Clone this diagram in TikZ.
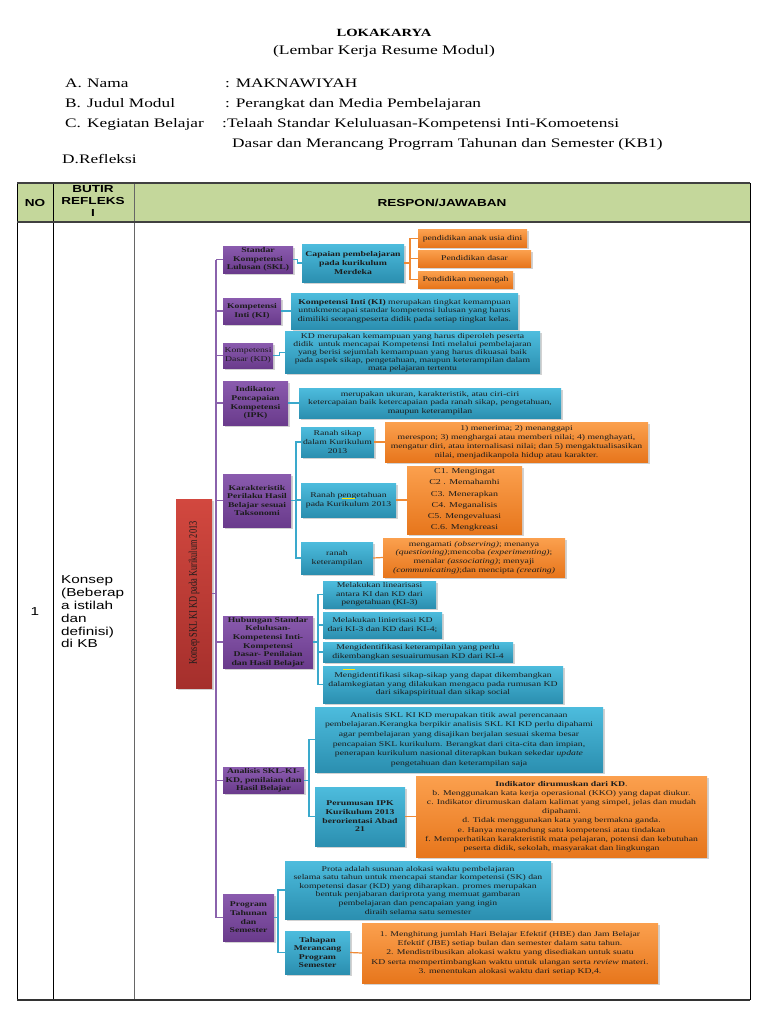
\documentclass[tikz,border=0pt]{standalone}
\usepackage{fontspec}
\setmainfont[FakeStretch=1.33]{Liberation Serif}
\newfontfamily\arialf[FakeStretch=1.33]{Liberation Sans}
\newfontfamily\rotfont{Liberation Serif}
\usetikzlibrary{shadows}

\definecolor{purpA}{HTML}{8A5BAE}
\definecolor{purpB}{HTML}{6A3B8C}
\definecolor{tealA}{HTML}{4DBCDD}
\definecolor{tealB}{HTML}{2B8FB0}
\definecolor{orA}{HTML}{FBA04E}
\definecolor{orB}{HTML}{E7761C}
\definecolor{redA}{HTML}{D2483F}
\definecolor{redB}{HTML}{A52F2C}
\definecolor{hdgreen}{HTML}{C4D79B}
\definecolor{txt}{HTML}{1C1C1C}
\definecolor{spinec}{HTML}{8A62AC}
\definecolor{tealc}{HTML}{3AA9CC}
\definecolor{orc}{HTML}{F08A35}

\tikzset{
  box/.style={inner sep=1pt, text=txt, align=center,
    drop shadow={opacity=0.35,shadow xshift=1.5pt,shadow yshift=-1.5pt},
    font=\fontsize{7.3}{8.6}\selectfont},
  purp/.style={box, top color=purpA, bottom color=purpB},
  purpb/.style={purp, font=\bfseries\fontsize{7.3}{8.6}\selectfont},
  tealbox/.style={box, top color=tealA, bottom color=tealB},
  tealb/.style={tealbox, font=\bfseries\fontsize{7.3}{8.6}\selectfont},
  orbox/.style={box, top color=orA, bottom color=orB},
  redbox/.style={box, top color=redA, bottom color=redB},
  spineline/.style={draw=spinec, line width=1.6pt},
  tealline/.style={draw=tealc, line width=1.2pt},
  orline/.style={draw=orc, line width=1.2pt},
  head/.style={font=\fontsize{13}{15}\selectfont, inner sep=0pt},
  tabhead/.style={font=\arialf\bfseries\fontsize{10.2}{12.2}\selectfont, align=center, inner sep=0pt},
}

\begin{document}
\begin{tikzpicture}[x=1pt,y=-1pt]
  \useasboundingbox[fill=white] (0,0) rectangle (768,1024);

  % heading
  \node[head, font=\bfseries\fontsize{11}{13}\selectfont] (title) at (384,33) {LOKAKARYA};
  \node[head, font=\fontsize{13.2}{15}\selectfont] (subtitle) at (384,51) {(Lembar Kerja Resume Modul)};
  \node[head, anchor=base west] (la) at (65,87.5) {A.};
  \node[head, anchor=base west] (lb) at (65,107.5) {B.};
  \node[head, anchor=base west] (lc) at (65,127.5) {C.};
  \node[head, anchor=base west] (na) at (87,87.5) {Nama};
  \node[head, anchor=base west] (nb) at (87,107.5) {Judul Modul};
  \node[head, anchor=base west] (nc) at (87,127.5) {Kegiatan Belajar};
  \node[head, anchor=base west] (va) at (225,87.5) {: MAKNAWIYAH};
  \node[head, anchor=base west] (vb) at (225,107.5) {: Perangkat dan Media Pembelajaran};
  \node[head, anchor=base west] (vc) at (222,127.5) {:Telaah Standar Keluluasan-Kompetensi Inti-Komoetensi};
  \node[head, anchor=base west] (vc2) at (232,147.5) {Dasar dan Merancang Progrram Tahunan dan Semester (KB1)};
  \node[head, anchor=base west] (ld) at (62,163.5) {D.Refleksi};

  % table
  \fill[hdgreen] (17,183) rectangle (750,222);
  \draw[line width=0.8pt] (17,183) -- (17,1000) (53,183) -- (53,1000) (750,183) -- (750,1000);
  \draw[line width=0.8pt, black!60] (134,183) -- (134,1000);
  \draw[line width=1.5pt, black!75] (17,183) -- (750,183) (17,222) -- (750,222);
  \draw[line width=1.2pt, black!80] (17,1000) -- (750,1000);
  \node[tabhead] (hno) at (35,203) {NO};
  \node[tabhead] (hbutir) at (93,201) {BUTIR\\REFLEKS\\I};
  \node[tabhead] (hresp) at (442,203) {RESPON/JAWABAN};
  \node[font=\arialf\fontsize{11.5}{12.8}\selectfont] (no1) at (35,612) {1};
  \node[font=\arialf\fontsize{11.5}{12.8}\selectfont, align=left, anchor=west, inner sep=0pt] (konsep) at (61,612)
    {Konsep\\(Beberap\\a istilah\\dan\\definisi)\\di KB};

  % root
  \node[redbox, minimum width=36, minimum height=189] (red) at (194,593.5) {};
  \node[rotate=90, text=txt, inner sep=0pt, font=\rotfont\fontsize{8.3}{10}\selectfont] (redtxt) at (194,593)
    {\scalebox{1}[1.4]{Konsep SKL KI KD pada Kurikulum 2013}};

  % first level
  \node[purpb, minimum width=70, minimum height=27] (skl) at (258,259.5) {Standar\\Kompetensi\\Lulusan (SKL)};
  \node[purpb, minimum width=58, minimum height=26] (ki) at (252,311) {Kompetensi\\Inti (KI)};
  \node[purp, minimum width=50, minimum height=25] (kd) at (248,355.5) {Kompetensi\\Dasar (KD)};
  \node[purpb, minimum width=65, minimum height=44] (ipk) at (255.5,403) {Indikator\\Pencapaian\\Kompetensi\\(IPK)};
  \node[purpb, minimum width=68, minimum height=53] (kar) at (257,500.5) {Karakteristik\\Perilaku Hasil\\Belajar sesuai\\Taksonomi};
  \node[purpb, minimum width=90, minimum height=52] (hub) at (268,642) {Hubungan Standar\\Kelulusan-\\Kompetensi Inti-\\Kompetensi\\Dasar- Penilaian\\dan Hasil Belajar};
  \node[purpb, minimum width=81, minimum height=25] (ana) at (263.5,780.5) {Analisis SKL-KI-\\KD, penilaian dan\\Hasil Belajar};
  \node[purpb, minimum width=51, minimum height=47] (prog) at (248.5,917.5) {Program\\Tahunan\\dan\\Semester};

  % SKL
  \node[tealb, minimum width=102, minimum height=38] (cap) at (353,263) {Capaian pembelajaran\\pada kurikulum\\Merdeka};
  \node[orbox, minimum width=109, minimum height=17] (paud) at (472.5,238.5) {pendidikan anak usia dini};
  \node[orbox, minimum width=113, minimum height=17] (dasar) at (474.5,258.5) {Pendidikan dasar};
  \node[orbox, minimum width=95, minimum height=17] (menengah) at (465.5,279.5) {Pendidikan menengah};

  % KI, KD, IPK
  \node[tealbox, minimum width=227, minimum height=36] (kitext) at (404.5,311)
    {\textbf{Kompetensi Inti (KI)} merupakan tingkat kemampuan\\untukmencapai standar kompetensi lulusan yang harus\\dimiliki seorangpeserta didik pada setiap tingkat kelas.};
  \node[tealbox, minimum width=255, minimum height=41, font=\fontsize{7.3}{8.1}\selectfont] (kdtext) at (412.5,352.5)
    {KD merupakan kemampuan yang harus diperoleh peserta\\didik\ \ untuk mencapai Kompetensi Inti melalui pembelajaran\\yang berisi sejumlah kemampuan yang harus dikuasai baik\\pada aspek sikap, pengetahuan, maupun keterampilan dalam\\mata pelajaran tertentu};
  \node[tealbox, minimum width=262, minimum height=30] (ipktext) at (430,403)
    {merupakan ukuran, karakteristik, atau ciri-ciri\\ketercapaian baik ketercapaian pada ranah sikap, pengetahuan,\\maupun keterampilan};

  % taksonomi
  \node[tealbox, minimum width=73, minimum height=30] (sikap) at (337.5,442) {Ranah sikap\\dalam Kurikulum\\2013};
  \node[orbox, minimum width=263, minimum height=40, font=\fontsize{7.3}{9}\selectfont] (sikapo) at (516.5,442)
    {1) menerima; 2) menanggapi\\merespon; 3) menghargai atau memberi nilai; 4) menghayati,\\mengatur diri, atau internalisasi nilai; dan 5) mengaktualisasikan\\nilai, menjadikanpola hidup atau karakter.};
  \node[tealbox, minimum width=95, minimum height=34] (peng) at (348.5,500) {Ranah pengetahuan\\pada Kurikulum 2013};
  \node[orbox, minimum width=115, minimum height=68, font=\fontsize{7.5}{11.2}\selectfont] (pengo) at (464.5,500)
    {C1. Mengingat\\C2 . Memahamhi\\C3. Menerapkan\\C4. Meganalisis\\C5. Mengevaluasi\\C.6. Mengkreasi};
  \node[tealbox, minimum width=72, minimum height=32] (ket) at (337,558) {ranah\\keterampilan};
  \node[orbox, minimum width=182, minimum height=39] (keto) at (474,557.5)
    {mengamati \textit{(observing)}; menanya\\\textit{(questioning)};mencoba \textit{(experimenting)};\\menalar \textit{(associating)}; menyaji\\\textit{(communicating)};dan mencipta \textit{(creating)}};
  \draw[yellow!85!orange, line width=1pt] (342,498) -- (355,498);

  % hubungan
  \node[tealbox, minimum width=113, minimum height=27] (hla) at (379.5,594.5) {Melakukan linearisasi\\antara KI dan KD dari\\pengetahuan (KI-3)};
  \node[tealbox, minimum width=119, minimum height=26] (hlb) at (382.5,625) {Melakukan linierisasi KD\\dari KI-3 dan KD dari KI-4;};
  \node[tealbox, minimum width=190, minimum height=20] (hlc) at (418,652) {Mengidentifikasi keterampilan yang perlu\\dikembangkan sesuairumusan KD dari KI-4};
  \node[tealbox, minimum width=240, minimum height=37] (hld) at (443,684.5)
    {Mengidentifikasi sikap-sikap yang dapat dikembangkan\\dalamkegiatan yang dilakukan mengacu pada rumusan KD\\dari sikapspiritual dan sikap social};
  \draw[yellow!85!orange, line width=1pt] (343,669) -- (355,669);

  % analisis
  \node[tealbox, minimum width=288, minimum height=65, font=\fontsize{7.3}{9.6}\selectfont] (anatext) at (459,739.5)
    {Analisis SKL KI KD merupakan titik awal perencanaan\\pembelajaran.Kerangka berpikir analisis SKL KI KD perlu dipahami\\agar pembelajaran yang disajikan berjalan sesuai skema besar\\pencapaian SKL kurikulum. Berangkat dari cita-cita dan impian,\\penerapan kurikulum nasional diterapkan bukan sekedar \textit{update}\\pengetahuan dan keterampilan saja};
  \node[tealb, minimum width=90, minimum height=59] (rumus) at (360,816.5) {Perumusan IPK\\Kurikulum 2013\\berorientasi Abad\\21};
  \node[orbox, minimum width=291, minimum height=81, font=\fontsize{7.3}{9.2}\selectfont] (rumuso) at (561.5,816.5)
    {\textbf{Indikator dirumuskan dari KD}.\\b. Menggunakan kata kerja operasional (KKO) yang dapat diukur.\\c. Indikator dirumuskan dalam kalimat yang simpel, jelas dan mudah\\dipahami.\\d. Tidak menggunakan kata yang bermakna ganda.\\e. Hanya mengandung satu kompetensi atau tindakan\\f. Memperhatikan karakteristik mata pelajaran, potensi dan kebutuhan\\peserta didik, sekolah, masyarakat dan lingkungan};

  % program
  \node[tealbox, minimum width=266, minimum height=58] (prota) at (418,890)
    {Prota adalah susunan alokasi waktu pembelajaran\\selama satu tahun untuk mencapai standar kompetensi (SK) dan\\kompetensi dasar (KD) yang diharapkan. promes merupakan\\bentuk penjabaran dariprota yang memuat gambaran\\pembelajaran dan pencapaian yang ingin\\diraih selama satu semester};
  \node[tealb, minimum width=65, minimum height=43] (tahap) at (317.5,952.5) {Tahapan\\Merancang\\Program\\Semester};
  \node[orbox, minimum width=296, minimum height=60, font=\fontsize{7.3}{9.4}\selectfont] (tahapo) at (510,953)
    {1. Menghitung jumlah Hari Belajar Efektif (HBE) dan Jam Belajar\\Efektif (JBE) setiap bulan dan semester dalam satu tahun.\\2. Mendistribusikan alokasi waktu yang disediakan untuk suatu\\KD serta mempertimbangkan waktu untuk ulangan serta \textit{review} materi.\\3. menentukan alokasi waktu dari setiap KD,4.};

  % spine
  \coordinate (sp) at (216,0);
  \draw[spineline] (skl.west -| sp) -- (prog.west -| sp);
  \draw[spineline] (red.east) -- (red.east -| sp);
  \foreach \n in {skl,ki,kd,ipk,kar,hub,ana,prog}
    \draw[spineline] (\n.west) -- (\n.west -| sp);

  % branches
  \draw[tealline] (skl.east) -- ++(4,0) |- (cap.west);
  \coordinate (capb) at (410,0);
  \foreach \n in {paud,dasar,menengah}
    \draw[orline] (cap.east) -- (cap.east -| capb) |- (\n.west);
  \draw[tealline] (ki.east) -- (kitext.west);
  \draw[tealline] (kd.east) -- ++(6,0) |- (kdtext.west);
  \draw[tealline] (ipk.east) -- (ipktext.west);

  \coordinate (karb) at (296,0);
  \foreach \n in {sikap,peng,ket}
    \draw[tealline] (kar.east) -- (kar.east -| karb) |- (\n.west);
  \draw[orline] (sikap.east) -- (sikapo.west);
  \draw[orline] (peng.east) -- (pengo.west);
  \draw[orline] (ket.east) -- (keto.west);

  \coordinate (hubb) at (318,0);
  \foreach \n in {hla,hlb,hlc,hld}
    \draw[tealline] (hub.east) -- (hub.east -| hubb) |- (\n.west);

  \coordinate (anab) at (309,0);
  \foreach \n in {anatext,rumus}
    \draw[tealline] (ana.east) -- (ana.east -| anab) |- (\n.west);
  \draw[orline] (rumus.east) -- (rumuso.west);

  \coordinate (progb) at (278,0);
  \foreach \n in {prota,tahap}
    \draw[tealline] (prog.east) -- (prog.east -| progb) |- (\n.west);
  \draw[orline] (tahap.east) -- (tahapo.west);
\end{tikzpicture}
\end{document}
